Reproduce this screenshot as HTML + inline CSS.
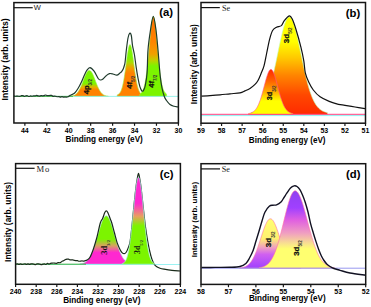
<!DOCTYPE html>
<html><head><meta charset="utf-8"><style>
html,body{margin:0;padding:0;background:#fff;width:371px;height:307px;overflow:hidden}
svg{display:block}
</style></head><body>
<svg width="371" height="307" viewBox="0 0 371 307">
<defs><linearGradient id="ga1" gradientUnits="userSpaceOnUse" x1="0" y1="70.4" x2="0" y2="96.4"><stop offset="0" stop-color="#7cf400"/><stop offset="0.5" stop-color="#7cf400"/><stop offset="0.65" stop-color="#e8b000"/><stop offset="0.75" stop-color="#ff8200"/><stop offset="1" stop-color="#ff8200"/></linearGradient><linearGradient id="ga2" gradientUnits="userSpaceOnUse" x1="0" y1="44.6" x2="0" y2="96.4"><stop offset="0" stop-color="#7cf400"/><stop offset="0.25" stop-color="#7cf400"/><stop offset="0.35" stop-color="#b0d800"/><stop offset="0.45" stop-color="#f0a000"/><stop offset="0.55" stop-color="#ff8200"/><stop offset="1" stop-color="#ff8200"/></linearGradient><linearGradient id="ga3" gradientUnits="userSpaceOnUse" x1="0" y1="16.4" x2="0" y2="96.4"><stop offset="0" stop-color="#ff7000"/><stop offset="0.3" stop-color="#ff8200"/><stop offset="0.47" stop-color="#f0a000"/><stop offset="0.55" stop-color="#c0d000"/><stop offset="0.62" stop-color="#7cf400"/><stop offset="1" stop-color="#7cf400"/></linearGradient><linearGradient id="gb1" gradientUnits="userSpaceOnUse" x1="0" y1="17.0" x2="0" y2="114.6"><stop offset="0" stop-color="#ffff00"/><stop offset="0.25" stop-color="#ffff00"/><stop offset="0.42" stop-color="#ffc800"/><stop offset="0.6" stop-color="#ff8400"/><stop offset="0.8" stop-color="#ff4800"/><stop offset="1" stop-color="#ff2a00"/></linearGradient><linearGradient id="gb2" gradientUnits="userSpaceOnUse" x1="0" y1="69.4" x2="0" y2="114.6"><stop offset="0" stop-color="#ff2a00"/><stop offset="0.25" stop-color="#ff6000"/><stop offset="0.5" stop-color="#ffb000"/><stop offset="0.7" stop-color="#ffff00"/><stop offset="1" stop-color="#ffff00"/></linearGradient><linearGradient id="gc1" gradientUnits="userSpaceOnUse" x1="0" y1="215.8" x2="0" y2="264.2"><stop offset="0" stop-color="#7cf400"/><stop offset="0.48" stop-color="#7cf400"/><stop offset="0.62" stop-color="#d8a060"/><stop offset="0.76" stop-color="#ff28d0"/><stop offset="1" stop-color="#ff28d0"/></linearGradient><linearGradient id="gc2" gradientUnits="userSpaceOnUse" x1="0" y1="177.2" x2="0" y2="264.2"><stop offset="0" stop-color="#ff28d0"/><stop offset="0.3" stop-color="#ff28d0"/><stop offset="0.45" stop-color="#e8a060"/><stop offset="0.56" stop-color="#7cf400"/><stop offset="1" stop-color="#7cf400"/></linearGradient><linearGradient id="gd1" gradientUnits="userSpaceOnUse" x1="0" y1="218.8" x2="0" y2="268.2"><stop offset="0" stop-color="#ffff70"/><stop offset="0.4" stop-color="#fff070"/><stop offset="0.58" stop-color="#f0a0c0"/><stop offset="0.72" stop-color="#d060f0"/><stop offset="1" stop-color="#a040ff"/></linearGradient><linearGradient id="gd2" gradientUnits="userSpaceOnUse" x1="0" y1="190.8" x2="0" y2="268.2"><stop offset="0" stop-color="#9040f0"/><stop offset="0.22" stop-color="#a040ff"/><stop offset="0.38" stop-color="#e060e0"/><stop offset="0.55" stop-color="#f0a0c0"/><stop offset="0.68" stop-color="#f8e090"/><stop offset="0.75" stop-color="#ffff70"/><stop offset="1" stop-color="#ffff70"/></linearGradient></defs>
<rect width="371" height="307" fill="#fff"/>
<path d="M70.10,96.40 L70.10,96.24 L70.60,96.20 L71.10,96.14 L71.60,96.06 L72.10,95.97 L72.60,95.86 L73.10,95.72 L73.60,95.55 L74.10,95.35 L74.60,95.11 L75.10,94.82 L75.60,94.48 L76.10,94.09 L76.60,93.63 L77.10,93.11 L77.60,92.52 L78.10,91.85 L78.60,91.10 L79.10,90.27 L79.60,89.36 L80.10,88.38 L80.60,87.31 L81.10,86.18 L81.60,84.99 L82.10,83.74 L82.60,82.46 L83.10,81.16 L83.60,79.84 L84.10,78.54 L84.60,77.27 L85.10,76.05 L85.60,74.90 L86.10,73.85 L86.60,72.90 L87.10,72.09 L87.60,71.42 L88.10,70.91 L88.60,70.58 L89.10,70.41 L89.60,70.43 L90.10,70.63 L90.60,71.00 L91.10,71.54 L91.60,72.24 L92.10,73.08 L92.60,74.05 L93.10,75.12 L93.60,76.29 L94.10,77.52 L94.60,78.80 L95.10,80.10 L95.60,81.42 L96.10,82.72 L96.60,84.00 L97.10,85.23 L97.60,86.41 L98.10,87.53 L98.60,88.58 L99.10,89.55 L99.60,90.44 L100.10,91.25 L100.60,91.99 L101.10,92.64 L101.60,93.22 L102.10,93.73 L102.60,94.17 L103.10,94.55 L103.60,94.88 L104.10,95.16 L104.60,95.39 L105.10,95.59 L105.60,95.75 L106.10,95.88 L106.60,95.99 L107.10,96.08 L107.60,96.15 L108.10,96.21 L108.50,96.40 Z" fill="url(#ga1)" stroke="#9cf040" stroke-width="0.6"/>
<path d="M117.20,96.40 L117.20,94.92 L117.70,94.71 L118.20,94.44 L118.70,94.10 L119.20,93.66 L119.70,93.10 L120.20,92.40 L120.70,91.51 L121.20,90.41 L121.70,89.06 L122.20,87.44 L122.70,85.52 L123.20,83.27 L123.70,80.70 L124.20,77.80 L124.70,74.60 L125.20,71.15 L125.70,67.50 L126.20,63.73 L126.70,59.96 L127.20,56.31 L127.70,52.91 L128.20,49.91 L128.70,47.47 L129.20,45.71 L129.70,44.76 L130.20,44.67 L130.70,45.45 L131.20,47.06 L131.70,49.37 L132.20,52.27 L132.70,55.61 L133.20,59.22 L133.70,62.98 L134.20,66.75 L134.70,70.43 L135.20,73.93 L135.70,77.18 L136.20,80.14 L136.70,82.78 L137.20,85.09 L137.70,87.08 L138.20,88.76 L138.70,90.16 L139.20,91.31 L139.70,92.23 L140.20,92.97 L140.70,93.56 L141.20,94.02 L141.70,94.38 L142.20,94.66 L142.70,94.88 L142.80,96.40 Z" fill="url(#ga2)" stroke="#9cf040" stroke-width="0.6"/>
<path d="M139.86,96.40 L139.86,94.11 L140.36,93.81 L140.86,93.42 L141.36,92.93 L141.86,92.31 L142.36,91.53 L142.86,90.55 L143.36,89.34 L143.86,87.84 L144.36,86.01 L144.86,83.81 L145.36,81.21 L145.86,78.17 L146.36,74.67 L146.86,70.71 L147.36,66.31 L147.86,61.50 L148.36,56.35 L148.86,50.94 L149.36,45.40 L149.86,39.86 L150.36,34.49 L150.86,29.47 L151.36,25.01 L151.86,21.30 L152.36,18.54 L152.86,16.88 L153.36,16.41 L153.86,17.17 L154.36,19.11 L154.86,22.11 L155.36,26.02 L155.86,30.63 L156.36,35.75 L156.86,41.18 L157.36,46.73 L157.86,52.25 L158.36,57.61 L158.86,62.69 L159.36,67.40 L159.86,71.70 L160.36,75.55 L160.86,78.94 L161.36,81.87 L161.86,84.38 L162.36,86.48 L162.86,88.22 L163.36,89.65 L163.86,90.81 L164.36,91.74 L164.86,92.48 L165.36,93.06 L165.86,93.52 L166.36,93.88 L166.74,96.40 Z" fill="url(#ga3)" stroke="#9cf040" stroke-width="0.6"/>
<line x1="13.9" y1="96.4" x2="178.4" y2="96.4" stroke="#90f0e8" stroke-width="0.9"/>
<line x1="13.9" y1="96.4" x2="73" y2="96.4" stroke="#50c050" stroke-width="1"/>
<path d="M14.00,95.94 C14.25,95.99 15.00,96.21 15.50,96.23 C16.00,96.24 16.50,96.03 17.00,96.03 C17.50,96.04 18.00,96.21 18.50,96.25 C19.00,96.28 19.50,96.35 20.00,96.25 C20.50,96.15 21.00,95.78 21.50,95.67 C22.00,95.56 22.50,95.48 23.00,95.60 C23.50,95.72 24.00,96.37 24.50,96.41 C25.00,96.44 25.50,95.92 26.00,95.81 C26.50,95.70 27.00,95.65 27.50,95.77 C28.00,95.88 28.50,96.48 29.00,96.51 C29.50,96.54 30.00,95.99 30.50,95.95 C31.00,95.91 31.50,96.28 32.00,96.27 C32.50,96.25 33.00,95.90 33.50,95.85 C34.00,95.80 34.50,96.03 35.00,95.96 C35.50,95.89 36.00,95.44 36.50,95.42 C37.00,95.40 37.50,95.75 38.00,95.85 C38.50,95.95 39.00,96.07 39.50,96.03 C40.00,96.00 40.50,95.67 41.00,95.63 C41.50,95.60 42.00,95.79 42.50,95.80 C43.00,95.81 43.50,95.81 44.00,95.68 C44.50,95.55 45.00,95.02 45.50,95.02 C46.00,95.01 46.50,95.56 47.00,95.66 C47.50,95.76 48.00,95.66 48.50,95.63 C49.00,95.60 49.50,95.52 50.00,95.47 C50.50,95.43 51.00,95.20 51.50,95.34 C52.00,95.48 52.50,96.19 53.00,96.31 C53.50,96.43 54.00,96.03 54.50,96.05 C55.00,96.08 55.50,96.32 56.00,96.44 C56.50,96.55 57.00,96.69 57.50,96.73 C58.00,96.78 58.50,96.65 59.00,96.70 C59.50,96.75 60.00,97.05 60.50,97.04 C61.00,97.03 61.50,96.61 62.00,96.64 C62.50,96.66 63.00,97.12 63.50,97.17 C64.00,97.22 64.50,96.95 65.00,96.94 C65.50,96.94 66.00,97.16 66.50,97.14 C67.00,97.11 67.50,97.02 68.00,96.78 C68.50,96.54 69.00,95.99 69.50,95.70 C70.00,95.40 70.13,95.45 71.00,95.00 C71.87,94.55 73.53,94.08 74.70,93.00 C75.87,91.92 76.92,90.25 78.00,88.50 C79.08,86.75 80.20,84.58 81.20,82.50 C82.20,80.42 83.07,78.02 84.00,76.00 C84.93,73.98 85.80,71.80 86.80,70.40 C87.80,69.00 88.78,67.47 90.00,67.60 C91.22,67.73 92.73,69.38 94.10,71.20 C95.47,73.02 97.12,77.03 98.20,78.50 C99.28,79.97 99.80,79.92 100.60,80.00 C101.40,80.08 102.07,79.72 103.00,79.00 C103.93,78.28 105.12,76.60 106.20,75.70 C107.28,74.80 108.37,73.88 109.50,73.60 C110.63,73.32 111.78,73.73 113.00,74.00 C114.22,74.27 115.65,75.35 116.80,75.20 C117.95,75.05 119.10,73.70 119.90,73.10 C120.70,72.50 121.05,72.28 121.60,71.60 C122.15,70.92 122.77,69.93 123.20,69.00 C123.63,68.07 123.88,67.17 124.20,66.00 C124.52,64.83 124.73,64.75 125.10,62.00 C125.47,59.25 125.92,53.50 126.40,49.50 C126.88,45.50 127.45,40.72 128.00,38.00 C128.55,35.28 129.15,33.62 129.70,33.20 C130.25,32.78 130.83,33.45 131.30,35.50 C131.77,37.55 131.98,42.33 132.50,45.50 C133.02,48.67 133.78,50.87 134.40,54.50 C135.02,58.13 135.60,63.35 136.20,67.30 C136.80,71.25 137.40,75.02 138.00,78.20 C138.60,81.38 139.20,84.33 139.80,86.40 C140.40,88.47 141.13,89.80 141.60,90.60 C142.07,91.40 142.27,91.27 142.60,91.20 C142.93,91.13 143.15,91.15 143.60,90.20 C144.05,89.25 144.72,88.42 145.30,85.50 C145.88,82.58 146.65,78.62 147.10,72.70 C147.55,66.78 147.43,57.12 148.00,50.00 C148.57,42.88 149.62,35.60 150.50,30.00 C151.38,24.40 152.38,16.40 153.30,16.40 C154.22,16.40 155.22,24.40 156.00,30.00 C156.78,35.60 157.32,42.50 158.00,50.00 C158.68,57.50 159.43,68.67 160.10,75.00 C160.77,81.33 161.30,84.42 162.00,88.00 C162.70,91.58 163.55,94.42 164.30,96.50 C165.05,98.58 165.55,99.17 166.50,100.50 C167.45,101.83 168.75,103.53 170.00,104.50 C171.25,105.47 172.67,105.88 174.00,106.30 C175.33,106.72 177.33,106.88 178.00,107.00" fill="none" stroke="#1f3a2c" stroke-width="1.2"/>
<text transform="translate(89.0 94.3) rotate(-90)" font-family='"Liberation Sans", sans-serif' font-weight="bold" font-size="7.6" fill="#111" stroke="#111" stroke-width="0.25">4p<tspan font-size="4.6" dy="2.7" stroke="none" fill="#333">3/2</tspan></text>
<text transform="translate(131.9 88.8) rotate(-90)" font-family='"Liberation Sans", sans-serif' font-weight="bold" font-size="7.6" fill="#111" stroke="#111" stroke-width="0.25">4f<tspan font-size="4.6" dy="3.2" stroke="none" fill="#333">5/2</tspan></text>
<text transform="translate(153.5 87.8) rotate(-90)" font-family='"Liberation Sans", sans-serif' font-weight="bold" font-size="7.6" fill="#111" stroke="#111" stroke-width="0.25">4f<tspan font-size="4.6" dy="3.6" stroke="none" fill="#333">7/2</tspan></text>
<rect x="13.9" y="2.6" width="164.5" height="120.4" fill="none" stroke="#151515" stroke-width="1.5"/>
<line x1="24.866666666666667" y1="123.0" x2="24.866666666666667" y2="125.8" stroke="#151515" stroke-width="1.2"/>
<text x="24.866666666666667" y="132.8" font-family='"Liberation Sans", sans-serif' font-weight="bold" font-size="7" text-anchor="middle" fill="#000">44</text>
<line x1="46.8" y1="123.0" x2="46.8" y2="125.8" stroke="#151515" stroke-width="1.2"/>
<text x="46.8" y="132.8" font-family='"Liberation Sans", sans-serif' font-weight="bold" font-size="7" text-anchor="middle" fill="#000">42</text>
<line x1="68.73333333333333" y1="123.0" x2="68.73333333333333" y2="125.8" stroke="#151515" stroke-width="1.2"/>
<text x="68.73333333333333" y="132.8" font-family='"Liberation Sans", sans-serif' font-weight="bold" font-size="7" text-anchor="middle" fill="#000">40</text>
<line x1="90.66666666666667" y1="123.0" x2="90.66666666666667" y2="125.8" stroke="#151515" stroke-width="1.2"/>
<text x="90.66666666666667" y="132.8" font-family='"Liberation Sans", sans-serif' font-weight="bold" font-size="7" text-anchor="middle" fill="#000">38</text>
<line x1="112.60000000000001" y1="123.0" x2="112.60000000000001" y2="125.8" stroke="#151515" stroke-width="1.2"/>
<text x="112.60000000000001" y="132.8" font-family='"Liberation Sans", sans-serif' font-weight="bold" font-size="7" text-anchor="middle" fill="#000">36</text>
<line x1="134.53333333333333" y1="123.0" x2="134.53333333333333" y2="125.8" stroke="#151515" stroke-width="1.2"/>
<text x="134.53333333333333" y="132.8" font-family='"Liberation Sans", sans-serif' font-weight="bold" font-size="7" text-anchor="middle" fill="#000">34</text>
<line x1="156.46666666666667" y1="123.0" x2="156.46666666666667" y2="125.8" stroke="#151515" stroke-width="1.2"/>
<text x="156.46666666666667" y="132.8" font-family='"Liberation Sans", sans-serif' font-weight="bold" font-size="7" text-anchor="middle" fill="#000">32</text>
<line x1="178.4" y1="123.0" x2="178.4" y2="125.8" stroke="#151515" stroke-width="1.2"/>
<text x="178.4" y="132.8" font-family='"Liberation Sans", sans-serif' font-weight="bold" font-size="7" text-anchor="middle" fill="#000">30</text>
<text x="104.2" y="142.4" font-family='"Liberation Sans", sans-serif' font-weight="bold" font-size="8.2" text-anchor="middle" fill="#000">Binding energy (eV)</text>
<text x="7.9" y="59.4" font-family='"Liberation Sans", sans-serif' font-weight="bold" font-size="8.6" text-anchor="middle" fill="#000" transform="rotate(-90 7.9 59.4)">Intensity (arb. units)</text>
<text x="166.2" y="16.4" font-family='"Liberation Sans", sans-serif' font-weight="bold" font-size="11.3" text-anchor="middle" fill="#000">(a)</text>
<line x1="13.9" y1="7.7" x2="32.7" y2="7.7" stroke="#111" stroke-width="1.2"/>
<text x="33.8" y="10.2" font-family='"Liberation Sans", sans-serif' font-weight="normal" font-size="7.5" text-anchor="start" fill="#222">W</text>
<path d="M250.90,114.60 L250.90,112.69 L251.40,112.58 L251.90,112.47 L252.40,112.34 L252.90,112.20 L253.40,112.05 L253.90,111.88 L254.40,111.70 L254.90,111.50 L255.40,111.28 L255.90,111.04 L256.40,110.77 L256.90,110.49 L257.40,110.17 L257.90,109.83 L258.40,109.46 L258.90,109.05 L259.40,108.61 L259.90,108.13 L260.40,107.62 L260.90,107.06 L261.40,106.45 L261.90,105.80 L262.40,105.11 L262.90,104.36 L263.40,103.55 L263.90,102.69 L264.40,101.77 L264.90,100.79 L265.40,99.75 L265.90,98.64 L266.40,97.47 L266.90,96.22 L267.40,94.91 L267.90,93.53 L268.40,92.08 L268.90,90.56 L269.40,88.96 L269.90,87.29 L270.40,85.55 L270.90,83.75 L271.40,81.87 L271.90,79.93 L272.40,77.92 L272.90,75.85 L273.40,73.73 L273.90,71.55 L274.40,69.32 L274.90,67.05 L275.40,64.74 L275.90,62.39 L276.40,60.02 L276.90,57.63 L277.40,55.22 L277.90,52.81 L278.40,50.40 L278.90,48.01 L279.40,45.63 L279.90,43.29 L280.40,40.98 L280.90,38.72 L281.40,36.52 L281.90,34.39 L282.40,32.34 L282.90,30.38 L283.40,28.52 L283.90,26.76 L284.40,25.13 L284.90,23.62 L285.40,22.25 L285.90,21.02 L286.40,19.95 L286.90,19.03 L287.40,18.28 L287.90,17.70 L288.40,17.29 L288.90,17.06 L289.40,17.00 L289.90,17.13 L290.40,17.43 L290.90,17.91 L291.40,18.56 L291.90,19.38 L292.40,20.36 L292.90,21.49 L293.40,22.78 L293.90,24.21 L294.40,25.77 L294.90,27.45 L295.40,29.25 L295.90,31.15 L296.40,33.15 L296.90,35.24 L297.40,37.39 L297.90,39.62 L298.40,41.90 L298.90,44.22 L299.40,46.58 L299.90,48.96 L300.40,51.36 L300.90,53.77 L301.40,56.18 L301.90,58.59 L302.40,60.97 L302.90,63.33 L303.40,65.67 L303.90,67.96 L304.40,70.22 L304.90,72.43 L305.40,74.59 L305.90,76.69 L306.40,78.73 L306.90,80.71 L307.40,82.63 L307.90,84.48 L308.40,86.26 L308.90,87.97 L309.40,89.61 L309.90,91.17 L310.40,92.67 L310.90,94.09 L311.40,95.45 L311.90,96.73 L312.40,97.94 L312.90,99.09 L313.40,100.17 L313.90,101.19 L314.40,102.15 L314.90,103.04 L315.40,103.88 L315.90,104.66 L316.40,105.39 L316.90,106.07 L317.40,106.70 L317.90,107.29 L318.40,107.83 L318.90,108.33 L319.40,108.79 L319.90,109.22 L320.40,109.61 L320.90,109.97 L321.40,110.30 L321.90,110.60 L322.40,110.88 L322.90,111.14 L323.40,111.37 L323.90,111.58 L324.40,111.78 L324.90,111.95 L325.40,112.11 L325.90,112.26 L326.40,112.39 L326.90,112.52 L327.40,112.63 L327.70,114.60 Z" fill="url(#gb1)" stroke="#c0ffb0" stroke-width="0.6"/>
<path d="M248.50,114.60 L248.50,113.56 L249.00,113.47 L249.50,113.37 L250.00,113.24 L250.50,113.10 L251.00,112.93 L251.50,112.74 L252.00,112.51 L252.50,112.25 L253.00,111.95 L253.50,111.61 L254.00,111.21 L254.50,110.76 L255.00,110.25 L255.50,109.67 L256.00,109.02 L256.50,108.30 L257.00,107.49 L257.50,106.59 L258.00,105.60 L258.50,104.52 L259.00,103.34 L259.50,102.07 L260.00,100.70 L260.50,99.24 L261.00,97.69 L261.50,96.06 L262.00,94.35 L262.50,92.57 L263.00,90.74 L263.50,88.87 L264.00,86.98 L264.50,85.08 L265.00,83.18 L265.50,81.32 L266.00,79.52 L266.50,77.79 L267.00,76.16 L267.50,74.66 L268.00,73.31 L268.50,72.12 L269.00,71.13 L269.50,70.35 L270.00,69.80 L270.50,69.48 L271.00,69.40 L271.50,69.58 L272.00,69.99 L272.50,70.64 L273.00,71.50 L273.50,72.57 L274.00,73.83 L274.50,75.25 L275.00,76.80 L275.50,78.47 L276.00,80.23 L276.50,82.06 L277.00,83.94 L277.50,85.84 L278.00,87.74 L278.50,89.63 L279.00,91.48 L279.50,93.29 L280.00,95.04 L280.50,96.72 L281.00,98.32 L281.50,99.84 L282.00,101.26 L282.50,102.59 L283.00,103.83 L283.50,104.97 L284.00,106.01 L284.50,106.96 L285.00,107.82 L285.50,108.60 L286.00,109.29 L286.50,109.91 L287.00,110.46 L287.50,110.95 L288.00,111.38 L288.50,111.75 L289.00,112.08 L289.50,112.36 L290.00,112.61 L290.50,112.82 L291.00,113.00 L291.50,113.16 L292.00,113.29 L292.50,113.41 L293.00,113.51 L293.30,114.60 Z" fill="url(#gb2)" stroke="#ff5090" stroke-width="0.6"/>
<line x1="201.0" y1="115.6" x2="365.5" y2="115.6" stroke="#80f0f0" stroke-width="0.9"/>
<line x1="201.0" y1="114.3" x2="365.5" y2="114.3" stroke="#ff4080" stroke-width="1"/>
<path d="M201.50,96.20 C202.92,96.10 206.92,95.83 210.00,95.60 C213.08,95.37 216.67,95.10 220.00,94.80 C223.33,94.50 226.67,94.12 230.00,93.80 C233.33,93.48 237.50,93.38 240.00,92.90 C242.50,92.42 243.33,91.65 245.00,90.90 C246.67,90.15 248.33,89.48 250.00,88.40 C251.67,87.32 253.67,85.72 255.00,84.40 C256.33,83.08 257.00,82.28 258.00,80.50 C259.00,78.72 260.00,76.13 261.00,73.70 C262.00,71.27 263.05,69.35 264.00,65.90 C264.95,62.45 265.77,57.43 266.70,53.00 C267.63,48.57 268.62,43.05 269.60,39.30 C270.58,35.55 271.45,32.52 272.60,30.50 C273.75,28.48 275.03,28.02 276.50,27.20 C277.97,26.38 280.10,26.68 281.40,25.60 C282.70,24.52 283.00,22.32 284.30,20.70 C285.60,19.08 287.90,16.22 289.20,15.90 C290.50,15.58 290.97,16.53 292.10,18.80 C293.23,21.07 294.53,24.78 296.00,29.50 C297.47,34.22 299.60,41.88 300.90,47.10 C302.20,52.32 303.07,56.52 303.80,60.80 C304.53,65.08 304.48,69.27 305.30,72.80 C306.12,76.33 307.37,79.13 308.70,82.00 C310.03,84.87 311.40,87.53 313.30,90.00 C315.20,92.47 317.45,94.90 320.10,96.80 C322.75,98.70 326.15,100.15 329.20,101.40 C332.25,102.65 335.77,103.65 338.40,104.30 C341.03,104.95 342.23,104.85 345.00,105.30 C347.77,105.75 351.67,106.43 355.00,107.00 C358.33,107.57 363.33,108.42 365.00,108.70" fill="none" stroke="#111" stroke-width="1.2"/>
<text transform="translate(272.2 100.2) rotate(-90)" font-family='"Liberation Sans", sans-serif' font-weight="bold" font-size="7.2" fill="#111" stroke="#111" stroke-width="0.25">3d<tspan font-size="4.6" dy="3.3" stroke="none" fill="#333">3/2</tspan></text>
<text transform="translate(288.8 43.2) rotate(-90)" font-family='"Liberation Sans", sans-serif' font-weight="bold" font-size="8" fill="#111" stroke="#111" stroke-width="0.25">3d<tspan font-size="4.6" dy="3.6" stroke="none" fill="#333">5/2</tspan></text>
<rect x="201.0" y="2.5" width="164.5" height="120.7" fill="none" stroke="#151515" stroke-width="1.5"/>
<line x1="201.0" y1="123.2" x2="201.0" y2="126.0" stroke="#151515" stroke-width="1.2"/>
<text x="201.0" y="132.6" font-family='"Liberation Sans", sans-serif' font-weight="bold" font-size="7" text-anchor="middle" fill="#000">59</text>
<line x1="221.5625" y1="123.2" x2="221.5625" y2="126.0" stroke="#151515" stroke-width="1.2"/>
<text x="221.5625" y="132.6" font-family='"Liberation Sans", sans-serif' font-weight="bold" font-size="7" text-anchor="middle" fill="#000">58</text>
<line x1="242.125" y1="123.2" x2="242.125" y2="126.0" stroke="#151515" stroke-width="1.2"/>
<text x="242.125" y="132.6" font-family='"Liberation Sans", sans-serif' font-weight="bold" font-size="7" text-anchor="middle" fill="#000">57</text>
<line x1="262.6875" y1="123.2" x2="262.6875" y2="126.0" stroke="#151515" stroke-width="1.2"/>
<text x="262.6875" y="132.6" font-family='"Liberation Sans", sans-serif' font-weight="bold" font-size="7" text-anchor="middle" fill="#000">56</text>
<line x1="283.25" y1="123.2" x2="283.25" y2="126.0" stroke="#151515" stroke-width="1.2"/>
<text x="283.25" y="132.6" font-family='"Liberation Sans", sans-serif' font-weight="bold" font-size="7" text-anchor="middle" fill="#000">55</text>
<line x1="303.8125" y1="123.2" x2="303.8125" y2="126.0" stroke="#151515" stroke-width="1.2"/>
<text x="303.8125" y="132.6" font-family='"Liberation Sans", sans-serif' font-weight="bold" font-size="7" text-anchor="middle" fill="#000">54</text>
<line x1="324.375" y1="123.2" x2="324.375" y2="126.0" stroke="#151515" stroke-width="1.2"/>
<text x="324.375" y="132.6" font-family='"Liberation Sans", sans-serif' font-weight="bold" font-size="7" text-anchor="middle" fill="#000">53</text>
<line x1="344.9375" y1="123.2" x2="344.9375" y2="126.0" stroke="#151515" stroke-width="1.2"/>
<text x="344.9375" y="132.6" font-family='"Liberation Sans", sans-serif' font-weight="bold" font-size="7" text-anchor="middle" fill="#000">52</text>
<line x1="365.5" y1="123.2" x2="365.5" y2="126.0" stroke="#151515" stroke-width="1.2"/>
<text x="365.5" y="132.6" font-family='"Liberation Sans", sans-serif' font-weight="bold" font-size="7" text-anchor="middle" fill="#000">51</text>
<text x="287.2" y="143.2" font-family='"Liberation Sans", sans-serif' font-weight="bold" font-size="8.15" text-anchor="middle" fill="#000">Binding energy (eV)</text>
<text x="197.0" y="64.1" font-family='"Liberation Sans", sans-serif' font-weight="bold" font-size="8.4" text-anchor="middle" fill="#000" transform="rotate(-90 197.0 64.1)">Intensity (arb. units)</text>
<text x="353" y="16.6" font-family='"Liberation Sans", sans-serif' font-weight="bold" font-size="11.3" text-anchor="middle" fill="#000">(b)</text>
<line x1="201.0" y1="7.6" x2="219.8" y2="7.6" stroke="#111" stroke-width="1.2"/>
<text x="221.9" y="10.7" font-family='"Liberation Serif", serif' font-weight="normal" font-size="8.2" text-anchor="start" fill="#222">Se</text>
<path d="M79.64,264.20 L79.64,263.91 L80.14,263.85 L80.64,263.78 L81.14,263.69 L81.64,263.59 L82.14,263.48 L82.64,263.34 L83.14,263.18 L83.64,263.00 L84.14,262.78 L84.64,262.54 L85.14,262.26 L85.64,261.95 L86.14,261.59 L86.64,261.19 L87.14,260.73 L87.64,260.23 L88.14,259.66 L88.64,259.04 L89.14,258.35 L89.64,257.59 L90.14,256.76 L90.64,255.85 L91.14,254.87 L91.64,253.81 L92.14,252.67 L92.64,251.46 L93.14,250.16 L93.64,248.80 L94.14,247.36 L94.64,245.85 L95.14,244.28 L95.64,242.66 L96.14,240.98 L96.64,239.27 L97.14,237.52 L97.64,235.76 L98.14,234.00 L98.64,232.23 L99.14,230.49 L99.64,228.78 L100.14,227.12 L100.64,225.53 L101.14,224.01 L101.64,222.58 L102.14,221.26 L102.64,220.05 L103.14,218.98 L103.64,218.05 L104.14,217.27 L104.64,216.65 L105.14,216.19 L105.64,215.91 L106.14,215.80 L106.64,215.87 L107.14,216.11 L107.64,216.52 L108.14,217.10 L108.64,217.85 L109.14,218.74 L109.64,219.78 L110.14,220.96 L110.64,222.25 L111.14,223.66 L111.64,225.16 L112.14,226.73 L112.64,228.38 L113.14,230.08 L113.64,231.81 L114.14,233.57 L114.64,235.34 L115.14,237.10 L115.64,238.85 L116.14,240.57 L116.64,242.26 L117.14,243.90 L117.64,245.48 L118.14,247.00 L118.64,248.46 L119.14,249.84 L119.64,251.15 L120.14,252.39 L120.64,253.54 L121.14,254.62 L121.64,255.62 L122.14,256.54 L122.64,257.39 L123.14,258.17 L123.64,258.88 L124.14,259.52 L124.64,260.10 L125.14,260.62 L125.64,261.08 L126.14,261.50 L126.64,261.87 L127.14,262.19 L127.64,262.48 L128.14,262.73 L128.64,262.95 L129.14,263.14 L129.64,263.30 L130.14,263.44 L130.64,263.57 L131.14,263.67 L131.64,263.76 L132.14,263.83 L132.64,263.90 L132.76,264.20 Z" fill="url(#gc1)" stroke="#a0f0e0" stroke-width="0.6"/>
<line x1="15.6" y1="264.5" x2="180.4" y2="264.5" stroke="#90f0f0" stroke-width="0.9"/>
<line x1="15.6" y1="264.2" x2="86" y2="264.2" stroke="#40b040" stroke-width="1"/>
<path d="M16.00,264.02 C16.25,264.00 17.00,263.81 17.50,263.87 C18.00,263.93 18.50,264.40 19.00,264.39 C19.50,264.39 20.00,263.85 20.50,263.84 C21.00,263.82 21.50,264.27 22.00,264.32 C22.50,264.38 23.00,264.25 23.50,264.17 C24.00,264.10 24.50,263.86 25.00,263.89 C25.50,263.92 26.00,264.35 26.50,264.36 C27.00,264.36 27.50,263.91 28.00,263.91 C28.50,263.90 29.00,264.32 29.50,264.33 C30.00,264.33 30.50,264.01 31.00,263.94 C31.50,263.88 32.00,263.88 32.50,263.92 C33.00,263.97 33.50,264.11 34.00,264.22 C34.50,264.33 35.00,264.64 35.50,264.58 C36.00,264.52 36.50,263.95 37.00,263.84 C37.50,263.72 38.00,263.83 38.50,263.90 C39.00,263.97 39.50,264.15 40.00,264.26 C40.50,264.37 41.00,264.56 41.50,264.54 C42.00,264.52 42.50,264.24 43.00,264.13 C43.50,264.03 44.00,263.86 44.50,263.91 C45.00,263.96 45.50,264.50 46.00,264.41 C46.50,264.32 47.00,263.43 47.50,263.37 C48.00,263.32 48.50,264.07 49.00,264.08 C49.50,264.08 50.00,263.56 50.50,263.40 C51.00,263.25 51.50,263.22 52.00,263.15 C52.50,263.09 53.00,263.03 53.50,263.02 C54.00,263.02 54.50,263.04 55.00,263.11 C55.50,263.17 56.00,263.50 56.50,263.41 C57.00,263.31 57.50,262.67 58.00,262.56 C58.50,262.45 59.00,262.82 59.50,262.75 C60.00,262.69 60.50,262.45 61.00,262.17 C61.50,261.89 62.00,261.32 62.50,261.06 C63.00,260.79 63.50,260.83 64.00,260.58 C64.50,260.33 65.00,259.78 65.50,259.55 C66.00,259.31 66.50,259.22 67.00,259.16 C67.50,259.10 68.00,259.06 68.50,259.18 C69.00,259.30 69.50,259.77 70.00,259.88 C70.50,259.99 71.00,259.84 71.50,259.85 C72.00,259.87 72.50,259.86 73.00,259.96 C73.50,260.07 74.00,260.36 74.50,260.46 C75.00,260.56 75.50,260.53 76.00,260.55 C76.50,260.58 77.00,260.51 77.50,260.62 C78.00,260.74 78.50,261.13 79.00,261.23 C79.50,261.32 80.00,261.26 80.50,261.18 C81.00,261.11 81.50,260.78 82.00,260.78 C82.50,260.77 83.00,261.16 83.50,261.16 C84.00,261.15 84.42,260.95 85.00,260.76 C85.58,260.57 86.17,260.59 87.00,260.00 C87.83,259.41 88.93,259.03 90.00,257.20 C91.07,255.37 92.23,252.37 93.40,249.00 C94.57,245.63 95.85,241.33 97.00,237.00 C98.15,232.67 99.37,226.08 100.30,223.00 C101.23,219.92 101.85,220.25 102.60,218.50 C103.35,216.75 104.18,213.78 104.80,212.50 C105.42,211.22 105.80,210.80 106.30,210.80 C106.80,210.80 107.13,211.13 107.80,212.50 C108.47,213.87 109.63,217.25 110.30,219.00 C110.97,220.75 111.10,220.67 111.80,223.00 C112.50,225.33 113.57,229.60 114.50,233.00 C115.43,236.40 116.48,240.65 117.40,243.40 C118.32,246.15 119.23,247.97 120.00,249.50 C120.77,251.03 121.28,251.90 122.00,252.60 C122.72,253.30 123.63,253.72 124.30,253.70 C124.97,253.68 125.43,253.27 126.00,252.50 C126.57,251.73 127.03,250.85 127.70,249.10 C128.37,247.35 129.28,245.92 130.00,242.00 C130.72,238.08 131.33,231.73 132.00,225.60 C132.67,219.47 133.33,211.63 134.00,205.20 C134.67,198.77 135.45,191.45 136.00,187.00 C136.55,182.55 136.88,180.78 137.30,178.50 C137.72,176.22 138.10,173.30 138.50,173.30 C138.90,173.30 139.28,176.22 139.70,178.50 C140.12,180.78 140.45,182.55 141.00,187.00 C141.55,191.45 142.28,198.77 143.00,205.20 C143.72,211.63 144.53,219.72 145.30,225.60 C146.07,231.48 146.83,236.10 147.60,240.50 C148.37,244.90 149.17,248.83 149.90,252.00 C150.63,255.17 151.27,257.45 152.00,259.50 C152.73,261.55 153.50,263.10 154.30,264.30 C155.10,265.50 155.85,266.05 156.80,266.70 C157.75,267.35 158.78,267.80 160.00,268.20 C161.22,268.60 162.10,268.75 164.10,269.10 C166.10,269.45 169.35,269.98 172.00,270.30 C174.65,270.62 178.67,270.88 180.00,271.00" fill="none" stroke="#1a2a1a" stroke-width="1.2"/>
<path d="M122.18,264.20 L122.18,263.68 L122.68,263.49 L123.18,263.24 L123.68,262.92 L124.18,262.51 L124.68,261.99 L125.18,261.33 L125.68,260.51 L126.18,259.50 L126.68,258.27 L127.18,256.79 L127.68,255.04 L128.18,252.97 L128.68,250.57 L129.18,247.82 L129.68,244.70 L130.18,241.21 L130.68,237.35 L131.18,233.14 L131.68,228.62 L132.18,223.83 L132.68,218.83 L133.18,213.71 L133.68,208.54 L134.18,203.43 L134.68,198.48 L135.18,193.81 L135.68,189.53 L136.18,185.75 L136.68,182.57 L137.18,180.07 L137.68,178.32 L138.18,177.37 L138.68,177.25 L139.18,177.97 L139.68,179.50 L140.18,181.79 L140.68,184.80 L141.18,188.42 L141.68,192.57 L142.18,197.14 L142.68,202.02 L143.18,207.10 L143.68,212.26 L144.18,217.41 L144.68,222.45 L145.18,227.30 L145.68,231.91 L146.18,236.20 L146.68,240.16 L147.18,243.76 L147.68,246.98 L148.18,249.84 L148.68,252.33 L149.18,254.49 L149.68,256.33 L150.18,257.88 L150.68,259.18 L151.18,260.24 L151.68,261.11 L152.18,261.82 L152.68,262.38 L153.18,262.82 L153.68,263.16 L154.18,263.43 L154.68,263.63 L154.82,264.20 Z" fill="url(#gc2)" stroke="#a0f0e0" stroke-width="0.7"/>
<text transform="translate(107.2 254.8) rotate(-90)" font-family='"Liberation Serif", serif' font-weight="bold" font-size="8.4" fill="#111" stroke="#111" stroke-width="0">3d<tspan font-size="4.6" dy="2.8" stroke="none" fill="#333">3/2</tspan></text>
<text transform="translate(139.9 254) rotate(-90)" font-family='"Liberation Serif", serif' font-weight="bold" font-size="7.8" fill="#111" stroke="#111" stroke-width="0">3d<tspan font-size="4.6" dy="3.2" stroke="none" fill="#333">5/2</tspan></text>
<rect x="15.6" y="163.6" width="164.8" height="120.70000000000002" fill="none" stroke="#151515" stroke-width="1.5"/>
<line x1="15.6" y1="284.3" x2="15.6" y2="287.1" stroke="#151515" stroke-width="1.2"/>
<text x="15.6" y="293.8" font-family='"Liberation Sans", sans-serif' font-weight="bold" font-size="7" text-anchor="middle" fill="#000">240</text>
<line x1="36.2" y1="284.3" x2="36.2" y2="287.1" stroke="#151515" stroke-width="1.2"/>
<text x="36.2" y="293.8" font-family='"Liberation Sans", sans-serif' font-weight="bold" font-size="7" text-anchor="middle" fill="#000">238</text>
<line x1="56.800000000000004" y1="284.3" x2="56.800000000000004" y2="287.1" stroke="#151515" stroke-width="1.2"/>
<text x="56.800000000000004" y="293.8" font-family='"Liberation Sans", sans-serif' font-weight="bold" font-size="7" text-anchor="middle" fill="#000">236</text>
<line x1="77.4" y1="284.3" x2="77.4" y2="287.1" stroke="#151515" stroke-width="1.2"/>
<text x="77.4" y="293.8" font-family='"Liberation Sans", sans-serif' font-weight="bold" font-size="7" text-anchor="middle" fill="#000">234</text>
<line x1="98.0" y1="284.3" x2="98.0" y2="287.1" stroke="#151515" stroke-width="1.2"/>
<text x="98.0" y="293.8" font-family='"Liberation Sans", sans-serif' font-weight="bold" font-size="7" text-anchor="middle" fill="#000">232</text>
<line x1="118.6" y1="284.3" x2="118.6" y2="287.1" stroke="#151515" stroke-width="1.2"/>
<text x="118.6" y="293.8" font-family='"Liberation Sans", sans-serif' font-weight="bold" font-size="7" text-anchor="middle" fill="#000">230</text>
<line x1="139.20000000000002" y1="284.3" x2="139.20000000000002" y2="287.1" stroke="#151515" stroke-width="1.2"/>
<text x="139.20000000000002" y="293.8" font-family='"Liberation Sans", sans-serif' font-weight="bold" font-size="7" text-anchor="middle" fill="#000">228</text>
<line x1="159.8" y1="284.3" x2="159.8" y2="287.1" stroke="#151515" stroke-width="1.2"/>
<text x="159.8" y="293.8" font-family='"Liberation Sans", sans-serif' font-weight="bold" font-size="7" text-anchor="middle" fill="#000">226</text>
<line x1="180.4" y1="284.3" x2="180.4" y2="287.1" stroke="#151515" stroke-width="1.2"/>
<text x="180.4" y="293.8" font-family='"Liberation Sans", sans-serif' font-weight="bold" font-size="7" text-anchor="middle" fill="#000">224</text>
<text x="101.8" y="303.3" font-family='"Liberation Sans", sans-serif' font-weight="bold" font-size="8.2" text-anchor="middle" fill="#000">Binding energy (eV)</text>
<text x="10.9" y="221.9" font-family='"Liberation Sans", sans-serif' font-weight="bold" font-size="8.4" text-anchor="middle" fill="#000" transform="rotate(-90 10.9 221.9)">Intensity (arb. units)</text>
<text x="166.7" y="177.8" font-family='"Liberation Sans", sans-serif' font-weight="bold" font-size="11.3" text-anchor="middle" fill="#000">(c)</text>
<line x1="15.6" y1="168.3" x2="34.6" y2="168.3" stroke="#111" stroke-width="1.2"/>
<text x="36.4" y="171.8" font-family='"Liberation Serif", serif' font-weight="normal" font-size="8.6" text-anchor="start" fill="#222" letter-spacing="0.9">Mo</text>
<path d="M239.68,268.20 L239.68,267.90 L240.18,267.85 L240.68,267.79 L241.18,267.72 L241.68,267.64 L242.18,267.54 L242.68,267.44 L243.18,267.31 L243.68,267.17 L244.18,267.01 L244.68,266.84 L245.18,266.63 L245.68,266.41 L246.18,266.15 L246.68,265.87 L247.18,265.55 L247.68,265.20 L248.18,264.81 L248.68,264.38 L249.18,263.91 L249.68,263.39 L250.18,262.82 L250.68,262.21 L251.18,261.54 L251.68,260.82 L252.18,260.04 L252.68,259.21 L253.18,258.31 L253.68,257.36 L254.18,256.35 L254.68,255.27 L255.18,254.14 L255.68,252.95 L256.18,251.71 L256.68,250.41 L257.18,249.06 L257.68,247.66 L258.18,246.23 L258.68,244.75 L259.18,243.25 L259.68,241.72 L260.18,240.17 L260.68,238.61 L261.18,237.05 L261.68,235.50 L262.18,233.96 L262.68,232.45 L263.18,230.97 L263.68,229.53 L264.18,228.15 L264.68,226.83 L265.18,225.59 L265.68,224.42 L266.18,223.35 L266.68,222.37 L267.18,221.50 L267.68,220.74 L268.18,220.10 L268.68,219.59 L269.18,219.20 L269.68,218.94 L270.18,218.81 L270.68,218.82 L271.18,218.96 L271.68,219.24 L272.18,219.64 L272.68,220.17 L273.18,220.83 L273.68,221.60 L274.18,222.48 L274.68,223.47 L275.18,224.56 L275.68,225.73 L276.18,226.99 L276.68,228.32 L277.18,229.70 L277.68,231.14 L278.18,232.63 L278.68,234.14 L279.18,235.68 L279.68,237.24 L280.18,238.80 L280.68,240.36 L281.18,241.90 L281.68,243.43 L282.18,244.93 L282.68,246.40 L283.18,247.83 L283.68,249.22 L284.18,250.57 L284.68,251.86 L285.18,253.10 L285.68,254.28 L286.18,255.41 L286.68,256.47 L287.18,257.48 L287.68,258.42 L288.18,259.31 L288.68,260.14 L289.18,260.91 L289.68,261.63 L290.18,262.29 L290.68,262.90 L291.18,263.45 L291.68,263.97 L292.18,264.43 L292.68,264.86 L293.18,265.24 L293.68,265.59 L294.18,265.90 L294.68,266.18 L295.18,266.43 L295.68,266.66 L296.18,266.86 L296.68,267.03 L297.18,267.19 L297.68,267.33 L298.18,267.45 L298.68,267.56 L299.18,267.65 L299.68,267.73 L300.18,267.80 L300.68,267.86 L301.12,268.20 Z" fill="url(#gd1)" stroke="#ff70a0" stroke-width="0.6"/>
<path d="M258.94,268.20 L258.94,267.74 L259.44,267.67 L259.94,267.59 L260.44,267.50 L260.94,267.40 L261.44,267.28 L261.94,267.16 L262.44,267.01 L262.94,266.85 L263.44,266.67 L263.94,266.47 L264.44,266.25 L264.94,266.00 L265.44,265.73 L265.94,265.43 L266.44,265.10 L266.94,264.73 L267.44,264.33 L267.94,263.89 L268.44,263.41 L268.94,262.89 L269.44,262.32 L269.94,261.71 L270.44,261.05 L270.94,260.33 L271.44,259.56 L271.94,258.73 L272.44,257.84 L272.94,256.89 L273.44,255.87 L273.94,254.79 L274.44,253.65 L274.94,252.44 L275.44,251.16 L275.94,249.82 L276.44,248.40 L276.94,246.92 L277.44,245.38 L277.94,243.77 L278.44,242.09 L278.94,240.36 L279.44,238.57 L279.94,236.73 L280.44,234.84 L280.94,232.90 L281.44,230.92 L281.94,228.92 L282.44,226.88 L282.94,224.82 L283.44,222.75 L283.94,220.67 L284.44,218.60 L284.94,216.53 L285.44,214.49 L285.94,212.47 L286.44,210.50 L286.94,208.56 L287.44,206.69 L287.94,204.88 L288.44,203.14 L288.94,201.49 L289.44,199.92 L289.94,198.46 L290.44,197.11 L290.94,195.87 L291.44,194.76 L291.94,193.77 L292.44,192.92 L292.94,192.20 L293.44,191.63 L293.94,191.21 L294.44,190.93 L294.94,190.81 L295.44,190.83 L295.94,190.98 L296.44,191.25 L296.94,191.65 L297.44,192.17 L297.94,192.80 L298.44,193.56 L298.94,194.42 L299.44,195.40 L299.94,196.48 L300.44,197.65 L300.94,198.93 L301.44,200.28 L301.94,201.72 L302.44,203.24 L302.94,204.82 L303.44,206.47 L303.94,208.17 L304.44,209.92 L304.94,211.71 L305.44,213.53 L305.94,215.38 L306.44,217.25 L306.94,219.14 L307.44,221.03 L307.94,222.92 L308.44,224.81 L308.94,226.68 L309.44,228.54 L309.94,230.38 L310.44,232.19 L310.94,233.97 L311.44,235.72 L311.94,237.42 L312.44,239.09 L312.94,240.70 L313.44,242.27 L313.94,243.80 L314.44,245.26 L314.94,246.68 L315.44,248.04 L315.94,249.35 L316.44,250.60 L316.94,251.79 L317.44,252.93 L317.94,254.01 L318.44,255.04 L318.94,256.01 L319.44,256.93 L319.94,257.79 L320.44,258.61 L320.94,259.37 L321.44,260.09 L321.94,260.76 L322.44,261.39 L322.94,261.97 L323.44,262.52 L323.94,263.02 L324.44,263.49 L324.94,263.92 L325.44,264.32 L325.94,264.69 L326.44,265.03 L326.94,265.34 L327.44,265.62 L327.94,265.88 L328.44,266.12 L328.94,266.33 L329.44,266.53 L329.94,266.71 L330.44,266.87 L330.94,267.01 L331.44,267.14 L331.94,267.26 L332.44,267.37 L332.94,267.46 L333.44,267.55 L333.94,267.63 L334.44,267.70 L334.78,268.20 Z" fill="url(#gd2)" stroke="#ff70a0" stroke-width="0.6"/>
<line x1="201.0" y1="268.2" x2="365.7" y2="268.2" stroke="#9898f0" stroke-width="1"/>
<path d="M201.50,267.50 C203.75,267.48 210.25,267.43 215.00,267.40 C219.75,267.37 225.83,267.45 230.00,267.30 C234.17,267.15 237.35,267.15 240.00,266.50 C242.65,265.85 244.32,264.82 245.90,263.40 C247.48,261.98 248.28,260.20 249.50,258.00 C250.72,255.80 252.12,253.03 253.20,250.20 C254.28,247.37 255.03,244.17 256.00,241.00 C256.97,237.83 258.00,234.53 259.00,231.20 C260.00,227.87 261.02,224.17 262.00,221.00 C262.98,217.83 263.68,214.65 264.90,212.20 C266.12,209.75 267.95,207.47 269.30,206.30 C270.65,205.13 271.78,205.43 273.00,205.20 C274.22,204.97 275.27,205.43 276.60,204.90 C277.93,204.37 279.77,203.23 281.00,202.00 C282.23,200.77 283.03,198.97 284.00,197.50 C284.97,196.03 285.72,194.78 286.80,193.20 C287.88,191.62 289.28,189.22 290.50,188.00 C291.72,186.78 293.02,186.15 294.10,185.90 C295.18,185.65 296.03,185.87 297.00,186.50 C297.97,187.13 298.98,188.28 299.90,189.70 C300.82,191.12 301.62,192.92 302.50,195.00 C303.38,197.08 304.28,199.37 305.20,202.20 C306.12,205.03 307.10,208.42 308.00,212.00 C308.90,215.58 309.72,220.20 310.60,223.70 C311.48,227.20 312.40,230.02 313.30,233.00 C314.20,235.98 315.10,238.85 316.00,241.60 C316.90,244.35 317.80,247.10 318.70,249.50 C319.60,251.90 320.52,254.17 321.40,256.00 C322.28,257.83 323.12,259.18 324.00,260.50 C324.88,261.82 325.70,262.90 326.70,263.90 C327.70,264.90 328.80,265.73 330.00,266.50 C331.20,267.27 332.23,267.87 333.90,268.50 C335.57,269.13 337.32,269.55 340.00,270.30 C342.68,271.05 345.75,272.18 350.00,273.00 C354.25,273.82 362.92,274.83 365.50,275.20" fill="none" stroke="#111122" stroke-width="1.4"/>
<text transform="translate(271 247.2) rotate(-90)" font-family='"Liberation Sans", sans-serif' font-weight="bold" font-size="8" fill="#111" stroke="#111" stroke-width="0.25">3d<tspan font-size="4.6" dy="3.6" stroke="none" fill="#333">3/2</tspan></text>
<text transform="translate(299.4 255.8) rotate(-90)" font-family='"Liberation Sans", sans-serif' font-weight="bold" font-size="7.9" fill="#111" stroke="#111" stroke-width="0.25">3d<tspan font-size="4.6" dy="3.0" stroke="none" fill="#333">5/2</tspan></text>
<rect x="201.0" y="163.7" width="164.7" height="120.69999999999999" fill="none" stroke="#151515" stroke-width="1.5"/>
<line x1="201.0" y1="284.4" x2="201.0" y2="287.2" stroke="#151515" stroke-width="1.2"/>
<text x="201.0" y="293.7" font-family='"Liberation Sans", sans-serif' font-weight="bold" font-size="7" text-anchor="middle" fill="#000">58</text>
<line x1="228.45" y1="284.4" x2="228.45" y2="287.2" stroke="#151515" stroke-width="1.2"/>
<text x="228.45" y="293.7" font-family='"Liberation Sans", sans-serif' font-weight="bold" font-size="7" text-anchor="middle" fill="#000">57</text>
<line x1="255.9" y1="284.4" x2="255.9" y2="287.2" stroke="#151515" stroke-width="1.2"/>
<text x="255.9" y="293.7" font-family='"Liberation Sans", sans-serif' font-weight="bold" font-size="7" text-anchor="middle" fill="#000">56</text>
<line x1="283.35" y1="284.4" x2="283.35" y2="287.2" stroke="#151515" stroke-width="1.2"/>
<text x="283.35" y="293.7" font-family='"Liberation Sans", sans-serif' font-weight="bold" font-size="7" text-anchor="middle" fill="#000">55</text>
<line x1="310.8" y1="284.4" x2="310.8" y2="287.2" stroke="#151515" stroke-width="1.2"/>
<text x="310.8" y="293.7" font-family='"Liberation Sans", sans-serif' font-weight="bold" font-size="7" text-anchor="middle" fill="#000">54</text>
<line x1="338.25" y1="284.4" x2="338.25" y2="287.2" stroke="#151515" stroke-width="1.2"/>
<text x="338.25" y="293.7" font-family='"Liberation Sans", sans-serif' font-weight="bold" font-size="7" text-anchor="middle" fill="#000">53</text>
<line x1="365.7" y1="284.4" x2="365.7" y2="287.2" stroke="#151515" stroke-width="1.2"/>
<text x="365.7" y="293.7" font-family='"Liberation Sans", sans-serif' font-weight="bold" font-size="7" text-anchor="middle" fill="#000">52</text>
<text x="287.3" y="300.5" font-family='"Liberation Sans", sans-serif' font-weight="bold" font-size="8.15" text-anchor="middle" fill="#000">Binding energy (eV)</text>
<text x="197.2" y="219.6" font-family='"Liberation Sans", sans-serif' font-weight="bold" font-size="7.9" text-anchor="middle" fill="#000" transform="rotate(-90 197.2 219.6)">Intensity (arb. units)</text>
<text x="353.2" y="177.6" font-family='"Liberation Sans", sans-serif' font-weight="bold" font-size="11.3" text-anchor="middle" fill="#000">(d)</text>
<line x1="201.0" y1="168.9" x2="220" y2="168.9" stroke="#111" stroke-width="1.2"/>
<text x="221.7" y="172" font-family='"Liberation Serif", serif' font-weight="normal" font-size="8.2" text-anchor="start" fill="#222">Se</text>
</svg></body></html>
